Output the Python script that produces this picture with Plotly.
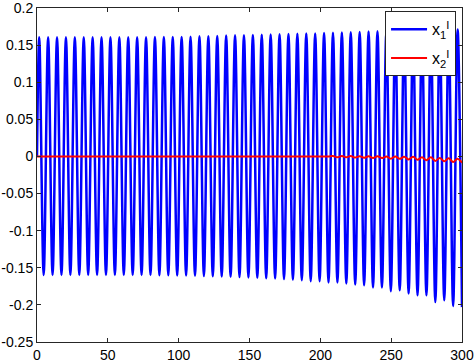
import plotly.graph_objects as go

# extremum times of the oscillation (peaks and troughs)
peak_t = [1.57, 7.85, 14.14, 20.42, 26.70, 32.99, 39.27, 45.55, 51.84, 58.12,
          64.40, 70.69, 76.97, 83.25, 89.54, 95.82, 102.10, 108.38, 114.67, 120.95,
          127.23, 133.52, 139.80, 146.08, 152.37, 158.65, 164.93, 171.22, 177.50, 183.78,
          190.07, 196.35, 202.63, 208.92, 215.20, 221.48, 227.77, 234.05, 240.33, 246.62,
          252.90, 259.18, 265.46, 271.75, 278.03, 284.31, 290.60, 296.88]
trough_t = [4.71, 10.99, 17.28, 23.56, 29.85, 36.13, 42.41, 48.69, 54.98, 61.26,
            67.54, 73.83, 80.11, 86.39, 92.68, 98.96, 105.24, 111.53, 117.81, 124.09,
            130.38, 136.66, 142.94, 149.23, 155.51, 161.79, 168.08, 174.36, 180.64, 186.92,
            193.21, 199.49, 205.77, 212.06, 218.34, 224.62, 230.91, 237.19, 243.47, 249.76,
            256.04, 262.32, 268.61, 274.89, 281.17, 287.46, 293.74, 300.0]

x1_peaks = [0.1605, 0.1605, 0.1605, 0.1605, 0.1605, 0.1605, 0.1605, 0.1605, 0.1605, 0.1605,
            0.1605, 0.1605, 0.1605, 0.1608, 0.1608, 0.1610, 0.1610, 0.1613, 0.1618, 0.1620,
            0.1623, 0.1628, 0.1632, 0.1634, 0.1637, 0.1641, 0.1643, 0.1646, 0.1650, 0.1652,
            0.1658, 0.1656, 0.1663, 0.1665, 0.1671, 0.1673, 0.1677, 0.1685, 0.1686, 0.1688,
            0.1690, 0.1692, 0.1695, 0.1697, 0.1700, 0.1702, 0.1706, 0.1710]
x1_troughs = [-0.1598, -0.1598, -0.1598, -0.1598, -0.1598, -0.1598, -0.1598, -0.1598, -0.1598, -0.1598,
              -0.1598, -0.1598, -0.1598, -0.1600, -0.1601, -0.1603, -0.1605, -0.1608, -0.1611, -0.1614,
              -0.1618, -0.1621, -0.1625, -0.1630, -0.1635, -0.1640, -0.1645, -0.1652, -0.1660, -0.1667,
              -0.1680, -0.1680, -0.1698, -0.1698, -0.1712, -0.1725, -0.1735, -0.1766, -0.1766, -0.1816,
              -0.1803, -0.1848, -0.1871, -0.1871, -0.1961, -0.1939, -0.2015, -0.2030]

x2_peaks = [0.0] * 33 + [0.0005, 0.0006, 0.0005, 0.0004, 0.0003, 0.0002, 0.0000, 0.0000,
                         -0.0005, -0.0005, -0.0010, -0.0012, -0.0020, -0.0025, -0.0030]
x2_troughs = [0.0] * 33 + [-0.0010, -0.0012, -0.0015, -0.0018, -0.0020, -0.0022, -0.0030, -0.0032,
                           -0.0040, -0.0045, -0.0050, -0.0060, -0.0065, -0.0075, -0.0085]

x_tickvals = [0, 50, 100, 150, 200, 250, 300]
x_ticktext = ["0", "50", "100", "150", "200", "250", "300"]
y_tickvals = [-0.25, -0.2, -0.15, -0.1, -0.05, 0, 0.05, 0.1, 0.15, 0.2]
y_ticktext = ["-0.25", "-0.2", "-0.15", "-0.1", "-0.05", "0", "0.05", "0.1", "0.15", "0.2"]


def interleave(t_a, v_a, t_b, v_b):
    ts, vs = [0.0], [0.0]
    for ta, va, tb, vb in zip(t_a, v_a, t_b, v_b):
        ts += [ta, tb]
        vs += [va, vb]
    return ts, vs


t1, v1 = interleave(peak_t, x1_peaks, trough_t, x1_troughs)
t2, v2 = interleave(peak_t, x2_peaks, trough_t, x2_troughs)

font = dict(family="Liberation Sans, Arial, sans-serif", size=14, color="black")
legend_font = dict(family="Liberation Sans, Arial, sans-serif", size=16, color="black")

fig = go.Figure()
fig.add_trace(go.Scatter(x=t1, y=v1, mode="lines", name="x<sub>1</sub><sup>I</sup>",
                         legendgroup="a",
                         line=dict(color="#0000ff", width=2.5, shape="spline")))
fig.add_trace(go.Scatter(x=t2, y=v2, mode="lines", name="x<sub>2</sub><sup>I</sup>",
                         legendgroup="b",
                         line=dict(color="#ff0000", width=2, shape="spline")))

axis_common = dict(showgrid=False, zeroline=False, showline=True, linecolor="#262626",
                   linewidth=1, mirror="ticks", ticks="inside", ticklen=4,
                   tickcolor="#262626", tickfont=font, automargin=False,
                   ticklabeloverflow="allow")

fig.update_layout(
    width=474, height=363,
    margin=dict(l=37, r=12, t=8, b=21),
    paper_bgcolor="white", plot_bgcolor="white",
    font=font,
    xaxis=dict(range=[0, 300], tickvals=x_tickvals, ticktext=x_ticktext, **axis_common),
    yaxis=dict(range=[-0.25, 0.2], tickvals=y_tickvals, ticktext=y_ticktext, **axis_common),
    legend=dict(x=0.986, y=0.99, xanchor="right", yanchor="top",
                bgcolor="white", bordercolor="#262626", borderwidth=1,
                font=legend_font, itemwidth=36, tracegroupgap=5),
    showlegend=True,
)

fig.write_html("out.html", config={"displayModeBar": False},
               post_script="document.body.style.margin='0px';document.body.style.overflow='hidden';")
